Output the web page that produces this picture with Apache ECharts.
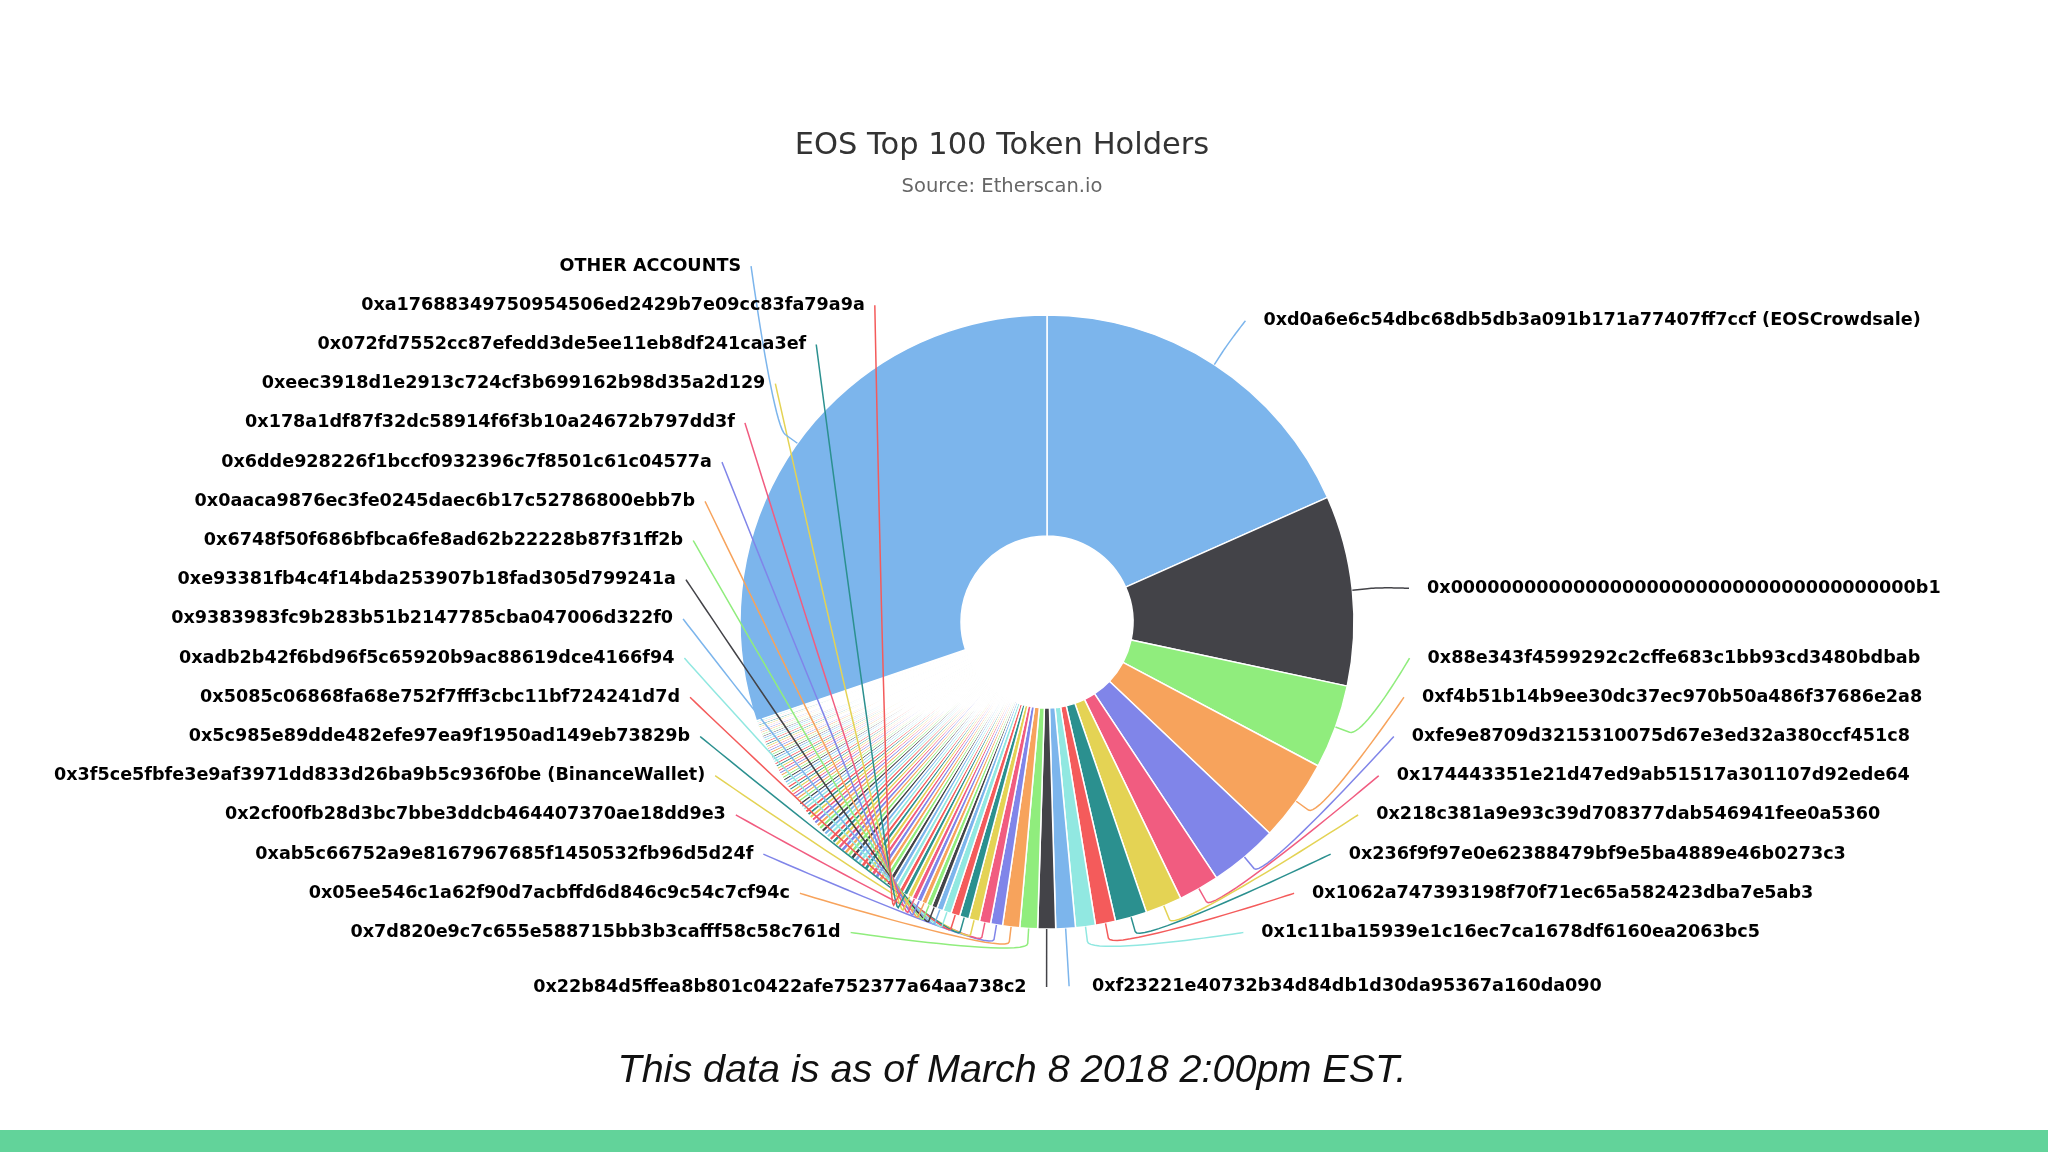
<!DOCTYPE html>
<html>
<head>
<meta charset="utf-8">
<script src="https://cdn.jsdelivr.net/npm/echarts@6/dist/echarts.min.js"></script>
<style>
html,body{margin:0;padding:0;background:#ffffff;}
#chart{width:2048px;height:1152px;}
</style>
</head>
<body>
<div id="chart"></div>
<script>
// ---------------- DATA ----------------
const titleText = 'EOS Top 100 Token Holders';
const subtitleText = 'Source: Etherscan.io';
const noteText = 'This data is as of March 8 2018 2:00pm EST.';

// Holders whose labels are visible, in rank order (rank 1 .. 29)
const labeledHolders = [
  '0xd0a6e6c54dbc68db5db3a091b171a77407ff7ccf (EOSCrowdsale)',
  '0x00000000000000000000000000000000000000b1',
  '0x88e343f4599292c2cffe683c1bb93cd3480bdbab',
  '0xf4b51b14b9ee30dc37ec970b50a486f37686e2a8',
  '0xfe9e8709d3215310075d67e3ed32a380ccf451c8',
  '0x174443351e21d47ed9ab51517a301107d92ede64',
  '0x218c381a9e93c39d708377dab546941fee0a5360',
  '0x236f9f97e0e62388479bf9e5ba4889e46b0273c3',
  '0x1062a747393198f70f71ec65a582423dba7e5ab3',
  '0x1c11ba15939e1c16ec7ca1678df6160ea2063bc5',
  '0xf23221e40732b34d84db1d30da95367a160da090',
  '0x22b84d5ffea8b801c0422afe752377a64aa738c2',
  '0x7d820e9c7c655e588715bb3b3cafff58c58c761d',
  '0x05ee546c1a62f90d7acbffd6d846c9c54c7cf94c',
  '0xab5c66752a9e8167967685f1450532fb96d5d24f',
  '0x2cf00fb28d3bc7bbe3ddcb464407370ae18dd9e3',
  '0x3f5ce5fbfe3e9af3971dd833d26ba9b5c936f0be (BinanceWallet)',
  '0x5c985e89dde482efe97ea9f1950ad149eb73829b',
  '0x5085c06868fa68e752f7fff3cbc11bf724241d7d',
  '0xadb2b42f6bd96f5c65920b9ac88619dce4166f94',
  '0x9383983fc9b283b51b2147785cba047006d322f0',
  '0xe93381fb4c4f14bda253907b18fad305d799241a',
  '0x6748f50f686bfbca6fe8ad62b22228b87f31ff2b',
  '0x0aaca9876ec3fe0245daec6b17c52786800ebb7b',
  '0x6dde928226f1bccf0932396c7f8501c61c04577a',
  '0x178a1df87f32dc58914f6f3b10a24672b797dd3f',
  '0xeec3918d1e2913c724cf3b699162b98d35a2d129',
  '0x072fd7552cc87efedd3de5ee11eb8df241caa3ef',
  '0xa17688349750954506ed2429b7e09cc83fa79a9a'
];
const otherLabel = 'OTHER ACCOUNTS';

// Token balances of the top 100 holders, millions of EOS
const holderValues = [
  183.5, 100.0, 44.2, 43.1, 36.1, 21.4, 19.2, 16.7, 10.6, 10.4,
  10.3, 9.4, 9.3, 9.0, 6.3, 5.9, 5.6, 5.0, 4.7, 4.4,
  3.4, 2.9, 2.85, 2.8, 2.75, 2.7, 2.65, 2.6, 2.55, 2.5,
  2.5, 2.45, 2.45, 2.4, 2.4, 2.35, 2.35, 2.3, 2.3, 2.25,
  2.25, 2.2, 2.2, 2.15, 2.15, 2.1, 2.1, 2.05, 2.05, 2.0,
  2.0, 1.95, 1.95, 1.9, 1.9, 1.85, 1.85, 1.8, 1.8, 1.75,
  1.6, 1.6, 1.6, 1.55, 1.55, 1.5, 1.5, 1.5, 1.45, 1.45,
  1.45, 1.4, 1.4, 1.4, 1.35, 1.35, 1.35, 1.3, 1.3, 1.3,
  1.3, 1.25, 1.25, 1.25, 1.2, 1.2, 1.2, 1.2, 1.15, 1.15,
  1.1, 1.1, 1.05, 1.05, 1.05, 1.0, 1.0, 1.0, 0.95, 0.95
];
const otherValue = 302.2;

const palette = ['#7cb5ec', '#434348', '#90ed7d', '#f7a35c', '#8085e9',
                 '#f15c80', '#e4d354', '#2b908f', '#f45b5b', '#91e8e1'];

// ---------------- LAYOUT ----------------
const CX = 1047, CY = 622, R_IN = 86, R_OUT = 307;
const LCY = 626, LR = 364, SLOT = 39.2, BOTTOM = 932.5, BREAK = 15;
const GAP_L = 10, GAP_R = 18, GAP_FREE_L = 20, GAP_FREE_R = 23, FREE_DY = -3;
const FREE = [10, 11];   // labels left at their natural place below the pie

const values = holderValues.concat([otherValue]);
const lastIdx = values.length - 1;
const names = values.map((v, i) =>
  i < labeledHolders.length ? labeledHolders[i] : (i === lastIdx ? otherLabel : 'Holder #' + (i + 1)));
const isLabeled = i => i < labeledHolders.length || i === lastIdx;

const total = values.reduce((a, b) => a + b, 0);
const mids = [];
let acc = 0;
values.forEach(v => { mids.push((acc + v / 2) / total * 2 * Math.PI); acc += v; });
const natural = i => ({ x: CX + LR * Math.sin(mids[i]), y: LCY - LR * Math.cos(mids[i]) });

const pos = {};
function distribute(list, left) {
  list.sort((a, b) => natural(a).y - natural(b).y);
  let next = Infinity;
  for (let k = list.length - 1; k >= 0; k--) {
    const i = list[k];
    const ny = natural(i).y;
    const y = Math.min(ny, BOTTOM, next - SLOT);
    next = y;
    const yForX = (y < LCY - LR * 0.95) ? ny : y;
    const dy = Math.max(-LR, Math.min(LR, yForX - LCY));
    const dx = Math.sqrt(LR * LR - dy * dy);
    pos[i] = { x: left ? CX - dx : CX + dx, y: y, left: left, gap: left ? GAP_L : GAP_R };
  }
}
const rightList = [], leftList = [];
values.forEach((v, i) => {
  if (!isLabeled(i)) return;
  if (FREE.indexOf(i) >= 0) {
    const n = natural(i);
    const left = mids[i] > Math.PI;
    pos[i] = { x: n.x, y: n.y + FREE_DY, left: left, gap: left ? GAP_FREE_L : GAP_FREE_R };
  } else if (mids[i] < Math.PI) rightList.push(i);
  else leftList.push(i);
});
distribute(rightList, false);
distribute(leftList, true);

function connector(i) {
  const q = pos[i], a = mids[i];
  const sx = Math.sin(a), sy = -Math.cos(a);
  const base = [CX + R_OUT * sx, CY + R_OUT * sy];
  const brk = [CX + (R_OUT + BREAK) * sx, CY + (R_OUT + BREAK) * sy];
  const end = [q.x, q.y];
  const c2 = [2 * brk[0] - base[0], 2 * brk[1] - base[1]];
  const pts = [];
  const N = 24;
  for (let s = 0; s <= N; s++) {
    const t = s / N, u = 1 - t;
    const b0 = u * u * u, b1 = 3 * u * u * t, b2 = 3 * u * t * t, b3 = t * t * t;
    pts.push([
      (b0 + b1) * end[0] + b2 * c2[0] + b3 * brk[0],
      (b0 + b1) * end[1] + b2 * c2[1] + b3 * brk[1]
    ]);
  }
  pts.push(base);
  return pts;
}

const chart = echarts.init(document.getElementById('chart'), null, { renderer: 'canvas' });
chart.setOption({
  animation: false,
  backgroundColor: '#ffffff',
  graphic: [
    { type: 'text', x: 1002, y: 146, silent: true,
      style: { text: titleText, align: 'center', verticalAlign: 'middle',
               fontFamily: 'DejaVu Sans', fontSize: 30.5, fill: '#333333' } },
    { type: 'text', x: 1002, y: 187, silent: true,
      style: { text: subtitleText, align: 'center', verticalAlign: 'middle',
               fontFamily: 'DejaVu Sans', fontSize: 19.5, fill: '#666666' } },
    { type: 'text', x: 1012, y: 1071, silent: true,
      style: { text: noteText, align: 'center', verticalAlign: 'middle',
               fontFamily: 'Liberation Sans', fontStyle: 'italic', fontSize: 39.5, fill: '#111111' } },
    { type: 'rect', silent: true, shape: { x: 0, y: 1130, width: 2048, height: 22 },
      style: { fill: '#62d39a' } }
  ],
  series: [
    {
      type: 'pie', silent: true, z: 2,
      center: [CX, CY], radius: [R_IN, R_OUT], startAngle: 90, clockwise: true,
      avoidLabelOverlap: false,
      label: { show: false }, labelLine: { show: false },
      emphasis: { disabled: true },
      itemStyle: { borderColor: '#ffffff', borderWidth: 1.5 },
      data: values.map((v, i) => ({ value: v, name: names[i], itemStyle: { color: palette[i % 10] } }))
    },
    {
      type: 'pie', silent: true, z: 5,
      center: [CX, CY], radius: [R_IN, R_OUT], startAngle: 90, clockwise: true,
      avoidLabelOverlap: false,
      emphasis: { disabled: true },
      itemStyle: { color: 'rgba(0,0,0,0)', borderWidth: 0 },
      label: { show: true, position: 'outer', alignTo: 'none', overflow: 'none',
               formatter: '{b}', color: '#000000', fontFamily: 'DejaVu Sans',
               fontWeight: 'bold', fontSize: 17.6 },
      labelLine: { show: true, length: 15, length2: 15, lineStyle: { width: 1.5 } },
      labelLayout: function (p) {
        const i = p.dataIndex;
        const q = pos[i];
        if (!q) return {};
        return {
          x: q.left ? q.x - q.gap : q.x + q.gap,
          y: q.y,
          align: q.left ? 'right' : 'left',
          verticalAlign: 'middle',
          labelLinePoints: connector(i)
        };
      },
      data: values.map((v, i) => ({
        value: v, name: names[i],
        label: { show: isLabeled(i) },
        labelLine: { show: isLabeled(i), lineStyle: { color: palette[i % 10] } }
      }))
    }
  ]
});
</script>
</body>
</html>
